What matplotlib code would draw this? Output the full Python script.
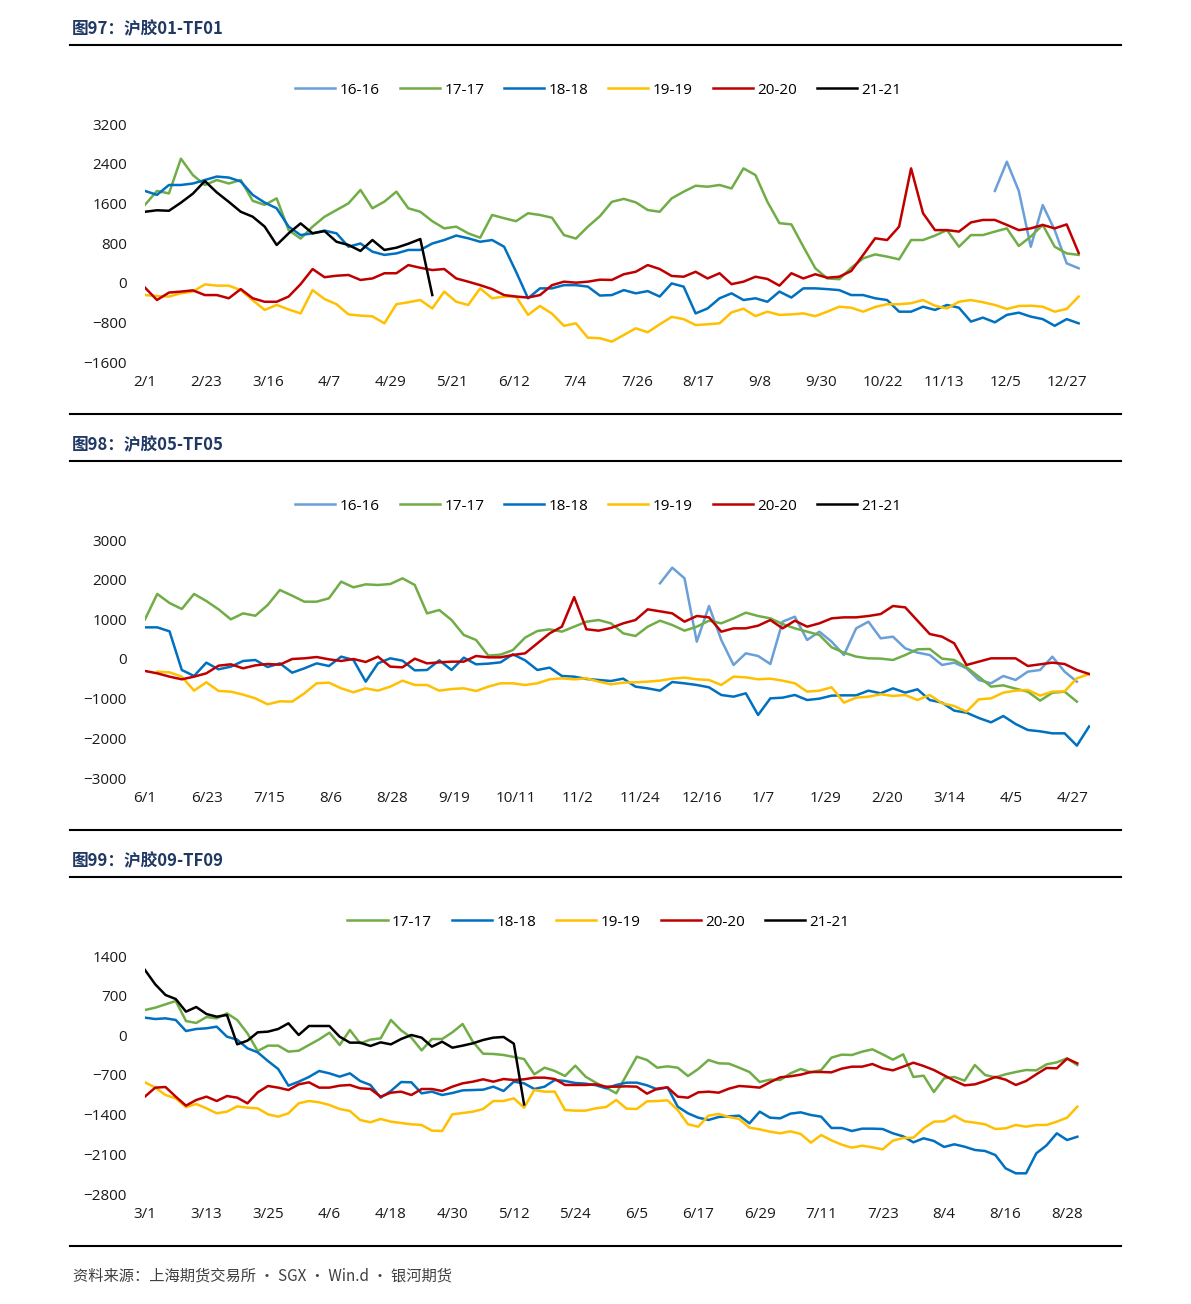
import numpy as np
import matplotlib
matplotlib.use("Agg")
import matplotlib.pyplot as plt
from matplotlib.lines import Line2D

plt.rcParams['font.family'] = ['Open Sans', 'Noto Sans CJK SC', 'DejaVu Sans']
nan = np.nan

W, H = 1191, 1304

# line colours of the contract pairs
colors = {'16-16': '#6A9FD8', '17-17': '#70AD47', '18-18': '#0070C0',
          '19-19': '#FFC000', '20-20': '#C00000', '21-21': '#000000'}

######################################################################
# 图97: 沪胶01-TF01  (one sample every ~4.3 calendar days from 2/1)
tf01_labels = ['2/1', '2/23', '3/16', '4/7', '4/29', '5/21', '6/12', '7/4', '7/26',
               '8/17', '9/8', '9/30', '10/22', '11/13', '12/5', '12/27']
tf01_step = 4.284
tf01_16 = [nan] * 71 + [1850, 2440, 1850, 725, 1565, 1060, 390, 290]
tf01_17 = [1570, 1850, 1800, 2500, 2170, 1970, 2070, 2000, 2070, 1650,
           1570, 1700, 1060, 890, 1130, 1330, 1465, 1600, 1870, 1500,
           1635, 1835, 1500, 1430, 1240, 1095, 1130, 995, 907, 1365,
           1300, 1240, 1400, 1365, 1310, 960, 890, 1130, 1340, 1630,
           1690, 1620, 1465, 1430, 1700, 1835, 1955, 1935, 1970, 1900,
           2305, 2170, 1630, 1200, 1175, 725, 290, 85, 70, 300,
           490, 570, 525, 470, 860, 860, 950, 1060, 725, 960,
           960, 1030, 1095, 740, 930, 1165, 725, 590, 560]
tf01_18 = [1850, 1770, 1970, 1970, 2000, 2070, 2140, 2120, 2040, 1770,
           1615, 1500, 1130, 960, 995, 1050, 995, 725, 790, 625,
           560, 590, 660, 660, 790, 860, 950, 895, 825, 860,
           725, 220, -315, -115, -115, -50, -50, -80, -260, -250,
           -150, -215, -170, -280, -15, -80, -620, -520, -315, -215,
           -350, -315, -385, -180, -300, -115, -115, -130, -150, -250,
           -250, -315, -350, -585, -585, -485, -550, -450, -505, -785,
           -705, -800, -650, -605, -685, -735, -870, -735, -820]
tf01_19 = [-250, -270, -280, -215, -180, -35, -60, -60, -150, -355,
           -550, -450, -540, -620, -150, -330, -435, -640, -665, -680,
           -820, -435, -395, -350, -520, -180, -385, -450, -115, -315,
           -280, -280, -650, -470, -625, -870, -820, -1110, -1120, -1190,
           -1055, -920, -1000, -840, -690, -735, -855, -840, -820, -600,
           -525, -675, -585, -650, -640, -620, -675, -585, -485, -505,
           -585, -490, -435, -435, -415, -350, -465, -520, -385, -350,
           -395, -450, -530, -470, -465, -485, -585, -530, -280]
tf01_20 = [-100, -350, -200, -180, -155, -250, -250, -315, -130, -315,
           -385, -385, -280, -30, 275, 110, 140, 155, 55, 85,
           190, 190, 355, 300, 255, 275, 85, 20, -50, -130,
           -250, -280, -300, -250, -50, 20, 0, 20, 60, 55,
           170, 220, 355, 275, 135, 120, 220, 85, 190, -30,
           20, 120, 75, -60, 190, 85, 170, 100, 120, 235,
           560, 895, 860, 1130, 2305, 1400, 1060, 1060, 1030, 1215,
           1265, 1265, 1165, 1060, 1095, 1165, 1095, 1175, 600]
tf01_21 = [1430, 1460, 1450, 1613, 1795, 2050, 1820, 1630, 1430, 1330,
           1130, 760, 995, 1195, 995, 1040, 825, 760, 640, 860,
           660, 705, 785, 880, -250] + [nan] * 54

######################################################################
# 图98: 沪胶05-TF05  (one sample every ~4.4 calendar days from 6/1)
tf05_labels = ['6/1', '6/23', '7/15', '8/6', '8/28', '9/19', '10/11', '11/2', '11/24',
               '12/16', '1/7', '1/29', '2/20', '3/14', '4/5', '4/27']
tf05_step = 4.36
tf05_16 = [nan] * 42 + [1908, 2302, 2034, 437, 1336, 479, -151, 143, 76, -126,
                        941, 1067, 479, 689, 437, 101, 773, 941, 521, 563,
                        269, 160, 101, -151, -92, -235, -529, -613, -428, -529,
                        -319, -277, 59, -319, -571, nan]
tf05_17 = [1000, 1640, 1412, 1260, 1640, 1462, 1252, 1000, 1150, 1090,
           1360, 1740, 1597, 1445, 1445, 1530, 1950, 1807, 1882, 1866,
           1890, 2034, 1866, 1150, 1235, 983, 605, 480, 85, 110,
           225, 540, 706, 748, 690, 815, 940, 983, 900, 647,
           580, 815, 966, 857, 714, 815, 966, 900, 1025, 1168,
           1084, 1025, 882, 773, 690, 605, 294, 160, 60, 17,
           10, -25, 100, 245, 252, 10, -25, -210, -445, -697,
           -664, -748, -823, -1050, -850, -823, -1075, nan]
tf05_18 = [798, 798, 697, -277, -428, -92, -260, -193, -50, -25,
           -202, -110, -345, -235, -110, -176, 59, -25, -571, -110,
           17, -42, -286, -277, -33, -277, 34, -134, -117, -84,
           118, -33, -277, -218, -428, -445, -504, -529, -555, -495,
           -697, -740, -798, -580, -613, -655, -714, -907, -950, -865,
           -1412, -992, -975, -907, -1034, -1000, -924, -916, -916, -798,
           -865, -740, -848, -764, -1034, -1100, -1302, -1353, -1487, -1597,
           -1437, -1638, -1790, -1823, -1874, -1874, -2185, -1700]
tf05_19 = [nan, -320, -336, -445, -798, -588, -806, -823, -899, -992,
           -1143, -1067, -1075, -865, -613, -596, -739, -840, -739, -798,
           -697, -546, -655, -655, -798, -756, -739, -806, -697, -613,
           -613, -655, -613, -512, -487, -512, -487, -571, -639, -596,
           -588, -571, -546, -495, -470, -512, -529, -655, -445, -462,
           -512, -495, -546, -613, -823, -798, -714, -1100, -975, -950,
           -890, -932, -907, -1034, -907, -1117, -1185, -1328, -1017, -992,
           -848, -798, -781, -924, -823, -815, -487, -378]
tf05_20 = [-302, -361, -445, -512, -445, -361, -168, -134, -235, -160,
           -126, -143, 0, 17, 50, -8, -50, 0, -75, 59,
           -193, -210, 8, -110, -84, -67, -67, 76, 42, 42,
           101, 143, 395, 647, 815, 1560, 750, 714, 782, 899,
           983, 1252, 1202, 1151, 941, 1084, 1050, 689, 773, 773,
           840, 983, 773, 966, 815, 899, 1025, 1050, 1050, 1084,
           1134, 1336, 1302, 966, 630, 563, 395, -151, -67, 17,
           17, 17, -176, -134, -92, -126, -277, -378]
tf05_21 = [nan] * 78

######################################################################
# 图99: 沪胶09-TF09  (one sample every 2 calendar days from 3/1)
tf09_labels = ['3/1', '3/13', '3/25', '4/6', '4/18', '4/30', '5/12', '5/24', '6/5',
               '6/17', '6/29', '7/11', '7/23', '8/4', '8/16', '8/28']
tf09_step = 2.0
tf09_17 = [447, 488, 547, 606, 253, 218, 323, 300, 388, 271,
           35, -276, -182, -182, -288, -271, -171, -71, 47, -171,
           94, -141, -76, -53, 271, 88, -41, -265, -65, -65,
           53, 200, -112, -324, -329, -347, -382, -418, -688, -571,
           -629, -718, -535, -729, -835, -924, -1023, -700, -376, -435,
           -571, -547, -571, -718, -594, -435, -494, -500, -571, -647,
           -824, -782, -788, -671, -594, -653, -612, -394, -341, -347,
           -288, -247, -335, -429, -335, -735, -712, -1000, -759, -735,
           -800, -524, -700, -741, -688, -647, -612, -618, -512, -477,
           -406, -524]
tf09_18 = [312, 288, 300, 271, 76, 112, 124, 153, -24, -76,
           -229, -300, -453, -594, -888, -818, -735, -629, -671, -729,
           -671, -806, -876, -1100, -982, -824, -829, -1024, -994, -1053,
           -1018, -971, -965, -959, -906, -982, -818, -847, -947, -906,
           -788, -806, -841, -853, -880, -935, -876, -835, -835, -882,
           -953, -918, -1259, -1376, -1453, -1494, -1441, -1429, -1418, -1553,
           -1347, -1453, -1465, -1382, -1359, -1406, -1435, -1635, -1635, -1688,
           -1647, -1647, -1653, -1729, -1782, -1888, -1817, -1864, -1970, -1923,
           -1965, -2023, -2041, -2112, -2347, -2435, -2435, -2082, -1941, -1729,
           -1847, -1790]
tf09_19 = [-829, -923, -1053, -1112, -1265, -1212, -1288, -1376, -1347, -1253,
           -1276, -1288, -1394, -1435, -1376, -1200, -1159, -1182, -1229, -1300,
           -1335, -1494, -1535, -1476, -1523, -1547, -1570, -1582, -1682, -1688,
           -1394, -1371, -1347, -1300, -1159, -1159, -1112, -1276, -965, -994,
           -994, -1318, -1329, -1329, -1288, -1265, -1141, -1294, -1300, -1165,
           -1159, -1147, -1318, -1570, -1612, -1418, -1388, -1441, -1476, -1629,
           -1659, -1700, -1729, -1694, -1741, -1894, -1759, -1853, -1929, -1982,
           -1947, -1976, -2012, -1859, -1812, -1806, -1641, -1523, -1517, -1418,
           -1517, -1541, -1570, -1653, -1641, -1582, -1612, -1582, -1582, -1523,
           -1453, -1259]
tf09_20 = [-1080, -923, -912, -1082, -1241, -1141, -1082, -1159, -1071, -1100,
           -1200, -1006, -894, -923, -965, -865, -829, -923, -923, -888,
           -876, -935, -947, -1082, -1012, -994, -1053, -947, -947, -982,
           -906, -847, -818, -776, -818, -771, -788, -776, -747, -747,
           -771, -876, -876, -876, -865, -906, -906, -900, -906, -1029,
           -941, -918, -1082, -1100, -1006, -994, -1012, -941, -894, -906,
           -923, -829, -741, -723, -694, -647, -647, -653, -588, -553,
           -553, -506, -582, -618, -553, -483, -541, -612, -706, -800,
           -882, -865, -806, -735, -782, -876, -806, -688, -576, -582,
           -412, -494]
tf09_21 = [1153, 900, 712, 641, 418, 500, 376, 329, 359, -159,
           -94, 53, 65, 112, 212, 6, 165, 165, 165, -24,
           -129, -129, -188, -124, -159, -65, 6, -41, -200, -112,
           -218, -182, -141, -82, -41, -29, -147, -1218] + [nan] * 54


def draw_panel(fig, top, bottom, per_day, step, ylims, ystep, labels, tick_gap,
               series, title, title_y, legend_y):
    ax = fig.add_axes([145 / W, 1 - bottom / H, 945 / W, (bottom - top) / H])
    for name, vals in series:
        vals = np.array(vals, dtype=float)
        x = np.arange(len(vals)) * step
        ax.plot(x, vals, color=colors[name], lw=1.8, solid_joinstyle='round')
    ax.set_xlim(0, 945 / per_day)
    ax.set_ylim(*ylims)
    ax.set_yticks(np.arange(ylims[0], ylims[1] + 1, ystep))
    ax.set_xticks(np.arange(len(labels)) * tick_gap)
    ax.set_xticklabels(labels)
    for s in ax.spines.values():
        s.set_visible(False)
    ax.tick_params(length=0, labelsize=11, colors='#1a1a1a')
    ax.tick_params(axis='y', pad=13)
    ax.tick_params(axis='x', pad=9.5)

    names = [n for n, _ in series]
    handles = [Line2D([], [], color=colors[n], lw=1.8) for n in names]
    fig.legend(handles, names, loc='center', bbox_to_anchor=(598.5 / W, 1 - (legend_y + 3) / H),
               ncol=len(names), frameon=False, fontsize=11, handlelength=2.62,
               handletextpad=0.3, columnspacing=1.3, borderpad=0, borderaxespad=0)

    fig.text(72 / W, 1 - (title_y + 2) / H, title, fontsize=12, fontweight='bold', color='#1F3864',
             va='center', ha='left', family=['Noto Sans CJK SC', 'DejaVu Sans'])
    for yy in (title_y + 18, bottom + 52):
        fig.add_artist(Line2D([70 / W, 1121 / W], [1 - yy / H] * 2, color='black', lw=1.5))
    return ax


fig = plt.figure(figsize=(W / 100, H / 100), dpi=100)

draw_panel(fig, 124, 362, 61.47 / 22, tf01_step, (-1600, 3200), 800, tf01_labels, 22,
           [('16-16', tf01_16), ('17-17', tf01_17), ('18-18', tf01_18),
            ('19-19', tf01_19), ('20-20', tf01_20), ('21-21', tf01_21)],
           '图97：沪胶01-TF01', 27, 87)

draw_panel(fig, 540, 778, 61.87 / 22, tf05_step, (-3000, 3000), 1000, tf05_labels, 22,
           [('16-16', tf05_16), ('17-17', tf05_17), ('18-18', tf05_18),
            ('19-19', tf05_19), ('20-20', tf05_20), ('21-21', tf05_21)],
           '图98：沪胶05-TF05', 443, 503)

draw_panel(fig, 956, 1194, 61.47 / 12, tf09_step, (-2800, 1400), 700, tf09_labels, 12,
           [('17-17', tf09_17), ('18-18', tf09_18), ('19-19', tf09_19),
            ('20-20', tf09_20), ('21-21', tf09_21)],
           '图99：沪胶09-TF09', 859, 919)

fig.text(73 / W, 1 - 1276 / H, '资料来源：上海期货交易所 · SGX · Win.d · 银河期货', fontsize=11,
         color='#404040', va='center', ha='left', family=['Noto Sans CJK SC', 'DejaVu Sans'])

fig.savefig('out.png', dpi=100)
